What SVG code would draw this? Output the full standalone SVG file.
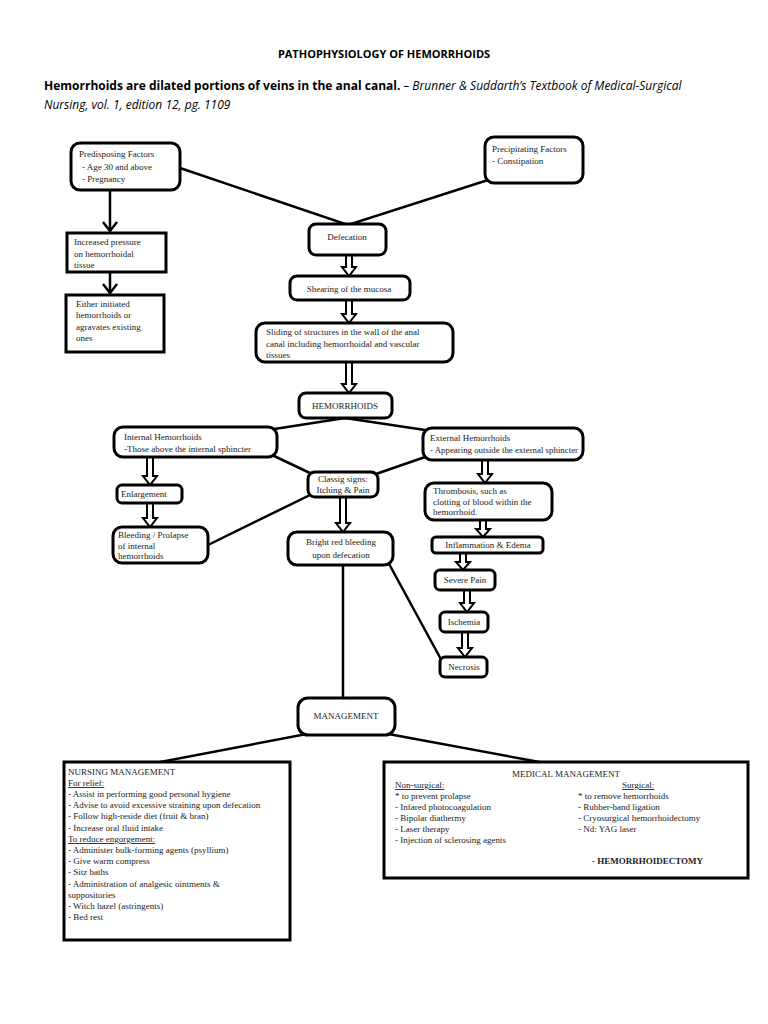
<svg xmlns="http://www.w3.org/2000/svg" width="768" height="1024" viewBox="0 0 768 1024">
<style>
.n{fill:#fff;stroke:#000;stroke-width:3}
.t{font-family:"Liberation Serif",serif;font-size:9px;fill:#222}
.c{text-anchor:middle}
.h{font-family:"Open Sans","Liberation Sans",sans-serif;fill:#000}
.l{stroke:#000;stroke-width:2.5;fill:none}
.a{fill:#fff;stroke:#000;stroke-width:2}
</style>
<defs><marker id="v" markerWidth="12" markerHeight="16" refX="10" refY="8" orient="auto" markerUnits="userSpaceOnUse" viewBox="0 0 12 16"><polyline points="1,1 10,8 1,15" fill="none" stroke="#000" stroke-width="2.5"/></marker></defs>
<rect width="768" height="1024" fill="#fff"/>
<text class="h c" x="384" y="58" font-size="11" font-weight="bold">PATHOPHYSIOLOGY OF HEMORRHOIDS</text>
<text class="h" x="44" y="90" font-size="12"><tspan font-weight="bold">Hemorrhoids are dilated portions of veins in the anal canal.</tspan><tspan font-style="italic"> – Brunner &amp; Suddarth’s Textbook of Medical-Surgical</tspan></text>
<text class="h" x="44" y="109" font-size="12" font-style="italic">Nursing, vol. 1, edition 12, pg. 1109</text>
<g id="connectors">
<path class="l" d="M180,168 L348,225 L488,180"/>
<path class="l" d="M110,180 V231" marker-end="url(#v)"/>
<path class="l" d="M110,272 V293" marker-end="url(#v)"/>
<path class="l" d="M268,430 L345,418 L425,430"/>
<path class="l" d="M272,455 L312,474"/>
<path class="l" d="M428,456 L376,474"/>
<path class="l" d="M312,494 L208,545"/>
<path class="l" d="M388,562 L443,663"/>
<path class="l" d="M343,565 V699"/>
<path class="l" d="M312,733 L155,763"/>
<path class="l" d="M383,733 L545,763"/>
<path class="a" d="M346,255 V267 H342 L349,276 L356,267 H352 V255Z"/>
<path class="a" d="M346,300 V314 H342 L349,323 L356,314 H352 V300Z"/>
<path class="a" d="M346,362 V384 H342 L349,393 L356,384 H352 V362Z"/>
<path class="a" d="M147,457 V476 H143 L150,485 L157,476 H153 V457Z"/>
<path class="a" d="M147,503 V518 H143 L150,527 L157,518 H153 V503Z"/>
<path class="a" d="M340,497 V523 H336 L343,532 L350,523 H346 V497Z"/>
<path class="a" d="M482,460 V474 H478 L485,483 L492,474 H488 V460Z"/>
<path class="a" d="M480,520 V529 H476 L483,537 L490,529 H486 V520Z"/>
<path class="a" d="M460,553 V562 H456 L463,570 L470,562 H466 V553Z"/>
<path class="a" d="M464,590 V603 H460 L467,612 L474,603 H470 V590Z"/>
<path class="a" d="M462,632 V648 H458 L465,657 L472,648 H468 V632Z"/>
</g>
<g id="predisposing"><rect class="n" x="71" y="143" width="109" height="47" rx="9"/><text class="t" x="79" y="157">Predisposing Factors</text><text class="t" x="82" y="170">- Age 30 and above</text><text class="t" x="82" y="182">- Pregnancy</text></g>
<g id="precipitating"><rect class="n" x="485" y="137" width="98" height="46" rx="9"/><text class="t" x="492" y="152">Precipitating Factors</text><text class="t" x="492" y="164">- Constipation</text></g>
<g id="pressure"><rect class="n" x="67" y="233" width="99" height="39"/><text class="t" x="74" y="245">Increased pressure</text><text class="t" x="74" y="257">on hemorrhoidal</text><text class="t" x="74" y="268">tissue</text></g>
<g id="either"><rect class="n" x="66" y="295" width="98" height="57"/><text class="t" x="76" y="307">Either initiated</text><text class="t" x="76" y="318">hemorrhoids or</text><text class="t" x="76" y="330">agravates existing</text><text class="t" x="76" y="341">ones</text></g>
<g id="defecation"><rect class="n" x="309" y="224" width="77" height="31" rx="7"/><text class="t c" x="347" y="240">Defecation</text></g>
<g id="shearing"><rect class="n" x="290" y="276" width="120" height="24" rx="7"/><text class="t c" x="349" y="292">Shearing of the mucosa</text></g>
<g id="sliding"><rect class="n" x="256" y="323" width="197" height="39" rx="9"/><text class="t" x="266" y="335">Sliding of structures in the wall of the anal</text><text class="t" x="266" y="347">canal including hemorrhoidal and vascular</text><text class="t" x="266" y="358">tissues</text></g>
<g id="hemorrhoids"><rect class="n" x="299" y="393" width="93" height="25" rx="7"/><text class="t c" x="345" y="409">HEMORRHOIDS</text></g>
<g id="internal"><rect class="n" x="114" y="427" width="163" height="30" rx="9"/><text class="t" x="124" y="440">Internal Hemorrhoids</text><text class="t" x="124" y="452">-Those above the internal sphincter</text></g>
<g id="external"><rect class="n" x="423" y="428" width="160" height="32" rx="9"/><text class="t" x="430" y="441">External Hemorrhoids</text><text class="t" x="430" y="453" textLength="148" lengthAdjust="spacingAndGlyphs">- Appearing outside the external sphincter</text></g>
<g id="classic"><rect class="n" x="308" y="472" width="70" height="25" rx="7"/><text class="t c" x="343" y="482">Classig signs:</text><text class="t c" x="343" y="493">Itching &amp; Pain</text></g>
<g id="enlargement"><rect class="n" x="117" y="485" width="65" height="18" rx="5"/><text class="t" x="121" y="497">Enlargement</text></g>
<g id="bleeding"><rect class="n" x="113" y="527" width="95" height="36" rx="9"/><text class="t" x="118" y="538">Bleeding / Prolapse</text><text class="t" x="118" y="549">of internal</text><text class="t" x="118" y="559">hemorrhoids</text></g>
<g id="bright"><rect class="n" x="288" y="532" width="105" height="33" rx="9"/><text class="t c" x="341" y="545">Bright red bleeding</text><text class="t c" x="341" y="558">upon defecation</text></g>
<g id="thrombosis"><rect class="n" x="425" y="483" width="127" height="37" rx="9"/><text class="t" x="433" y="494">Thrombosis, such as</text><text class="t" x="433" y="505">clotting of blood within the</text><text class="t" x="433" y="515">hemorrhoid.</text></g>
<g id="inflammation"><rect class="n" x="432" y="537" width="111" height="16" rx="4"/><text class="t c" x="488" y="548">Inflammation &amp; Edema</text></g>
<g id="severe"><rect class="n" x="435" y="570" width="60" height="20" rx="5"/><text class="t c" x="465" y="583">Severe Pain</text></g>
<g id="ischemia"><rect class="n" x="440" y="612" width="48" height="20" rx="5"/><text class="t c" x="464" y="625">Ischemia</text></g>
<g id="necrosis"><rect class="n" x="440" y="657" width="47" height="20" rx="5"/><text class="t c" x="464" y="670">Necrosis</text></g>
<g id="management"><rect class="n" x="298" y="698" width="97" height="37" rx="10"/><text class="t c" x="346" y="719">MANAGEMENT</text></g>
<g id="nursing"><rect class="n" x="64" y="762" width="226" height="178"/>
<text class="t" x="68" y="775">NURSING MANAGEMENT</text>
<text class="t" x="68" y="786" text-decoration="underline">For relief:</text>
<text class="t" x="68" y="797">- Assist in performing good personal hygiene</text>
<text class="t" x="68" y="808">- Advise to avoid excessive straining upon defecation</text>
<text class="t" x="68" y="819">- Follow high-reside diet (fruit &amp; bran)</text>
<text class="t" x="68" y="831">- Increase oral fluid intake</text>
<text class="t" x="68" y="842" text-decoration="underline">To reduce engorgement:</text>
<text class="t" x="68" y="853">- Administer bulk-forming agents (psyllium)</text>
<text class="t" x="68" y="864">- Give warm compress</text>
<text class="t" x="68" y="875">- Sitz baths</text>
<text class="t" x="68" y="887">- Administration of analgesic ointments &amp;</text>
<text class="t" x="68" y="898">suppositories</text>
<text class="t" x="68" y="909">- Witch hazel (astringents)</text>
<text class="t" x="68" y="920">- Bed rest</text></g>
<g id="medical"><rect class="n" x="384" y="762" width="364" height="116"/>
<text class="t c" x="566" y="777">MEDICAL MANAGEMENT</text>
<text class="t" x="395" y="788" text-decoration="underline">Non-surgical:</text>
<text class="t" x="395" y="799">* to prevent prolapse</text>
<text class="t" x="395" y="810">- Infared photocoagulation</text>
<text class="t" x="395" y="821">- Bipolar diathermy</text>
<text class="t" x="395" y="832">- Laser therapy</text>
<text class="t" x="395" y="843">- Injection of sclerosing agents</text>
<text class="t" x="622" y="788" text-decoration="underline">Surgical:</text>
<text class="t" x="578" y="799">* to remove hemorrhoids</text>
<text class="t" x="578" y="810">- Rubber-band ligation</text>
<text class="t" x="578" y="821">- Cryosurgical hemorrhoidectomy</text>
<text class="t" x="578" y="832">- Nd: YAG laser</text>
<text class="t" x="592" y="864" font-weight="bold" fill="#000">- HEMORRHOIDECTOMY</text></g>
</svg>
